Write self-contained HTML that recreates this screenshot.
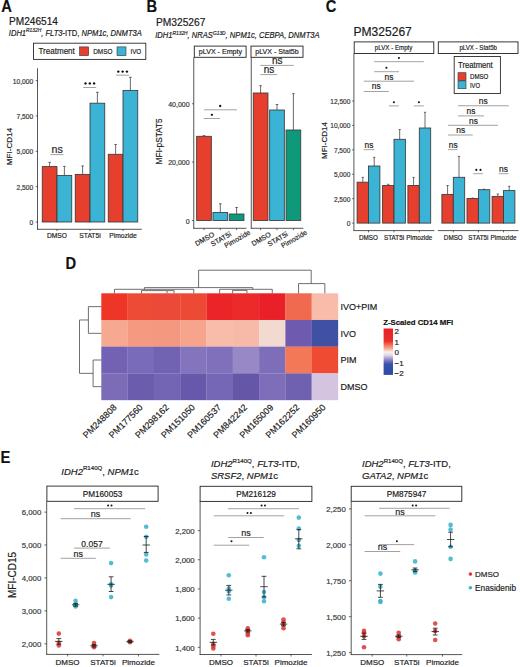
<!DOCTYPE html>
<html><head><meta charset="utf-8"><style>
html,body{margin:0;padding:0;background:#fff;}
svg{display:block;}
text{font-family:"Liberation Sans",sans-serif;}
</style></head><body>
<svg width="520" height="667" viewBox="0 0 520 667" font-family="Liberation Sans, sans-serif">
<rect width="520" height="667" fill="#fff"/>
<text x="0.00" y="0.00" font-size="16" text-anchor="start" fill="#111" stroke="#111" stroke-width="0.18" font-weight="bold" transform="translate(1.2,11.8) scale(0.92,1)">A</text>
<text x="9.00" y="25.00" font-size="10" text-anchor="start" fill="#1a1a1a" stroke="#1a1a1a" stroke-width="0.18" textLength="49.00" lengthAdjust="spacingAndGlyphs" >PM246514</text>
<text stroke="#1a1a1a" stroke-width="0.18" x="8.8" y="35.8" font-size="8.3" fill="#1a1a1a" font-style="italic" textLength="133" lengthAdjust="spacingAndGlyphs">IDH1<tspan font-size="5.3" dy="-3.7">R132H</tspan><tspan dy="3.7">, FLT3</tspan><tspan font-style="normal">-ITD, </tspan>NPM1c, DNMT3A</text>
<rect x="33.50" y="43.20" width="112.30" height="16.20" fill="#fff" stroke="#2a2a2a" stroke-width="0.9"/>
<text x="38.50" y="54.10" font-size="9" text-anchor="start" fill="#222" stroke="#222" stroke-width="0.18" textLength="36.30" lengthAdjust="spacingAndGlyphs" >Treatment</text>
<rect x="79.60" y="46.90" width="9.00" height="8.70" fill="#E63F2D" stroke="#333" stroke-width="0.6"/>
<text x="93.20" y="53.80" font-size="7" text-anchor="start" fill="#222" stroke="#222" stroke-width="0.18" textLength="19.20" lengthAdjust="spacingAndGlyphs" >DMSO</text>
<rect x="117.00" y="46.90" width="9.00" height="8.70" fill="#3AB3D5" stroke="#333" stroke-width="0.6"/>
<text x="130.40" y="53.80" font-size="7" text-anchor="start" fill="#222" stroke="#222" stroke-width="0.18" textLength="10.80" lengthAdjust="spacingAndGlyphs" >IVO</text>
<line x1="37.50" y1="68.30" x2="37.50" y2="229.60" stroke="#2b2b2b" stroke-width="0.8" />
<line x1="37.10" y1="229.30" x2="141.80" y2="229.30" stroke="#2b2b2b" stroke-width="0.8" />
<line x1="35.70" y1="80.60" x2="37.50" y2="80.60" stroke="#2b2b2b" stroke-width="0.7" />
<text x="33.30" y="83.51" font-size="6.7" text-anchor="end" fill="#383838" stroke="#383838" stroke-width="0.18" >10,000</text>
<line x1="35.70" y1="115.95" x2="37.50" y2="115.95" stroke="#2b2b2b" stroke-width="0.7" />
<text x="33.30" y="118.86" font-size="6.7" text-anchor="end" fill="#383838" stroke="#383838" stroke-width="0.18" >7,500</text>
<line x1="35.70" y1="151.30" x2="37.50" y2="151.30" stroke="#2b2b2b" stroke-width="0.7" />
<text x="33.30" y="154.21" font-size="6.7" text-anchor="end" fill="#383838" stroke="#383838" stroke-width="0.18" >5,000</text>
<line x1="35.70" y1="186.65" x2="37.50" y2="186.65" stroke="#2b2b2b" stroke-width="0.7" />
<text x="33.30" y="189.56" font-size="6.7" text-anchor="end" fill="#383838" stroke="#383838" stroke-width="0.18" >2,500</text>
<line x1="35.70" y1="222.00" x2="37.50" y2="222.00" stroke="#2b2b2b" stroke-width="0.7" />
<text x="33.30" y="224.91" font-size="6.7" text-anchor="end" fill="#383838" stroke="#383838" stroke-width="0.18" >0</text>
<line x1="57.00" y1="229.30" x2="57.00" y2="231.10" stroke="#2b2b2b" stroke-width="0.7" />
<line x1="90.00" y1="229.30" x2="90.00" y2="231.10" stroke="#2b2b2b" stroke-width="0.7" />
<line x1="123.00" y1="229.30" x2="123.00" y2="231.10" stroke="#2b2b2b" stroke-width="0.7" />
<rect x="42.25" y="166.60" width="14.75" height="55.40" fill="#E63F2D" stroke="#3a3a3a" stroke-width="0.85"/>
<line x1="49.62" y1="166.60" x2="49.62" y2="162.30" stroke="#444" stroke-width="0.8" />
<line x1="48.33" y1="162.30" x2="50.92" y2="162.30" stroke="#444" stroke-width="0.8" />
<rect x="57.00" y="175.40" width="14.75" height="46.60" fill="#3AB3D5" stroke="#3a3a3a" stroke-width="0.85"/>
<line x1="64.38" y1="175.40" x2="64.38" y2="166.40" stroke="#444" stroke-width="0.8" />
<line x1="63.08" y1="166.40" x2="65.67" y2="166.40" stroke="#444" stroke-width="0.8" />
<rect x="75.25" y="174.40" width="14.75" height="47.60" fill="#E63F2D" stroke="#3a3a3a" stroke-width="0.85"/>
<line x1="82.62" y1="174.40" x2="82.62" y2="165.90" stroke="#444" stroke-width="0.8" />
<line x1="81.33" y1="165.90" x2="83.92" y2="165.90" stroke="#444" stroke-width="0.8" />
<rect x="90.00" y="103.20" width="14.75" height="118.80" fill="#3AB3D5" stroke="#3a3a3a" stroke-width="0.85"/>
<line x1="97.38" y1="103.20" x2="97.38" y2="92.30" stroke="#444" stroke-width="0.8" />
<line x1="96.08" y1="92.30" x2="98.67" y2="92.30" stroke="#444" stroke-width="0.8" />
<rect x="108.25" y="154.30" width="14.75" height="67.70" fill="#E63F2D" stroke="#3a3a3a" stroke-width="0.85"/>
<line x1="115.62" y1="154.30" x2="115.62" y2="144.50" stroke="#444" stroke-width="0.8" />
<line x1="114.33" y1="144.50" x2="116.92" y2="144.50" stroke="#444" stroke-width="0.8" />
<rect x="123.00" y="90.40" width="14.75" height="131.60" fill="#3AB3D5" stroke="#3a3a3a" stroke-width="0.85"/>
<line x1="130.38" y1="90.40" x2="130.38" y2="77.30" stroke="#444" stroke-width="0.8" />
<line x1="129.07" y1="77.30" x2="131.68" y2="77.30" stroke="#444" stroke-width="0.8" />
<text x="57.00" y="238.30" font-size="6.7" text-anchor="middle" fill="#222" stroke="#222" stroke-width="0.18" >DMSO</text>
<text x="90.00" y="238.30" font-size="6.7" text-anchor="middle" fill="#222" stroke="#222" stroke-width="0.18" >STAT5i</text>
<text x="123.00" y="238.30" font-size="6.7" text-anchor="middle" fill="#222" stroke="#222" stroke-width="0.18" >Pimozide</text>
<text x="0.00" y="0.00" font-size="8.1" text-anchor="middle" fill="#1a1a1a" stroke="#1a1a1a" stroke-width="0.18" transform="translate(11.9,146.5) rotate(-90)">MFI-CD14</text>
<line x1="50.40" y1="154.60" x2="63.50" y2="154.60" stroke="#8a8a8a" stroke-width="0.8" />
<text x="57.20" y="152.60" font-size="10.6" text-anchor="middle" fill="#222" stroke="#222" stroke-width="0.18" >ns</text>
<line x1="83.20" y1="87.50" x2="96.20" y2="87.50" stroke="#8a8a8a" stroke-width="0.8" />
<circle cx="85.50" cy="83.40" r="1.2" fill="#111"/>
<circle cx="89.80" cy="83.40" r="1.2" fill="#111"/>
<circle cx="94.10" cy="83.40" r="1.2" fill="#111"/>
<line x1="116.00" y1="75.20" x2="129.00" y2="75.20" stroke="#8a8a8a" stroke-width="0.8" />
<circle cx="118.30" cy="71.60" r="1.2" fill="#111"/>
<circle cx="122.60" cy="71.60" r="1.2" fill="#111"/>
<circle cx="126.90" cy="71.60" r="1.2" fill="#111"/>
<text x="0.00" y="0.00" font-size="16" text-anchor="start" fill="#111" stroke="#111" stroke-width="0.18" font-weight="bold" transform="translate(146.6,11.6) scale(0.92,1)">B</text>
<text x="156.00" y="25.60" font-size="10" text-anchor="start" fill="#1a1a1a" stroke="#1a1a1a" stroke-width="0.18" textLength="49.40" lengthAdjust="spacingAndGlyphs" >PM325267</text>
<text stroke="#1a1a1a" stroke-width="0.18" x="155.2" y="38.4" font-size="8.3" fill="#1a1a1a" font-style="italic" textLength="164.4" lengthAdjust="spacingAndGlyphs">IDH1<tspan font-size="5.3" dy="-3.7">R132H</tspan><tspan dy="3.7">, NRAS</tspan><tspan font-size="5.3" dy="-3.7">G13D</tspan><tspan dy="3.7">, NPM1c, CEBPA, DNMT3A</tspan></text>
<rect x="194.30" y="46.10" width="51.80" height="11.20" fill="#fff" stroke="#222" stroke-width="0.9"/>
<text x="220.40" y="54.40" font-size="7.6" text-anchor="middle" fill="#1a1a1a" stroke="#1a1a1a" stroke-width="0.18" textLength="43.20" lengthAdjust="spacingAndGlyphs" >pLVX - Empty</text>
<rect x="251.00" y="46.10" width="52.00" height="11.20" fill="#fff" stroke="#222" stroke-width="0.9"/>
<text x="277.00" y="54.40" font-size="7.6" text-anchor="middle" fill="#1a1a1a" stroke="#1a1a1a" stroke-width="0.18" textLength="43.40" lengthAdjust="spacingAndGlyphs" >pLVX - Stat5b</text>
<line x1="193.75" y1="57.30" x2="193.75" y2="228.60" stroke="#2b2b2b" stroke-width="0.8" />
<line x1="251.25" y1="57.30" x2="251.25" y2="228.60" stroke="#2b2b2b" stroke-width="0.8" />
<line x1="193.35" y1="228.30" x2="246.40" y2="228.30" stroke="#2b2b2b" stroke-width="0.8" />
<line x1="250.85" y1="228.30" x2="303.30" y2="228.30" stroke="#2b2b2b" stroke-width="0.8" />
<line x1="191.95" y1="103.75" x2="193.75" y2="103.75" stroke="#2b2b2b" stroke-width="0.7" />
<text x="189.65" y="106.77" font-size="7" text-anchor="end" fill="#383838" stroke="#383838" stroke-width="0.18" >40,000</text>
<line x1="191.95" y1="162.12" x2="193.75" y2="162.12" stroke="#2b2b2b" stroke-width="0.7" />
<text x="189.65" y="165.15" font-size="7" text-anchor="end" fill="#383838" stroke="#383838" stroke-width="0.18" >20,000</text>
<line x1="191.95" y1="220.50" x2="193.75" y2="220.50" stroke="#2b2b2b" stroke-width="0.7" />
<text x="189.65" y="223.52" font-size="7" text-anchor="end" fill="#383838" stroke="#383838" stroke-width="0.18" >0</text>
<line x1="204.00" y1="228.30" x2="204.00" y2="230.10" stroke="#2b2b2b" stroke-width="0.7" />
<line x1="220.30" y1="228.30" x2="220.30" y2="230.10" stroke="#2b2b2b" stroke-width="0.7" />
<line x1="236.60" y1="228.30" x2="236.60" y2="230.10" stroke="#2b2b2b" stroke-width="0.7" />
<line x1="260.60" y1="228.30" x2="260.60" y2="230.10" stroke="#2b2b2b" stroke-width="0.7" />
<line x1="277.00" y1="228.30" x2="277.00" y2="230.10" stroke="#2b2b2b" stroke-width="0.7" />
<line x1="293.40" y1="228.30" x2="293.40" y2="230.10" stroke="#2b2b2b" stroke-width="0.7" />
<rect x="196.65" y="136.30" width="14.70" height="84.20" fill="#E63F2D" stroke="#3a3a3a" stroke-width="0.85"/>
<line x1="204.00" y1="136.30" x2="204.00" y2="135.60" stroke="#444" stroke-width="0.8" />
<line x1="202.70" y1="135.60" x2="205.30" y2="135.60" stroke="#444" stroke-width="0.8" />
<rect x="212.95" y="212.50" width="14.70" height="8.00" fill="#3AB3D5" stroke="#3a3a3a" stroke-width="0.85"/>
<line x1="220.30" y1="212.50" x2="220.30" y2="203.80" stroke="#444" stroke-width="0.8" />
<line x1="219.00" y1="203.80" x2="221.60" y2="203.80" stroke="#444" stroke-width="0.8" />
<rect x="229.25" y="214.00" width="14.70" height="6.50" fill="#0E9A7A" stroke="#3a3a3a" stroke-width="0.85"/>
<line x1="236.60" y1="214.00" x2="236.60" y2="207.50" stroke="#444" stroke-width="0.8" />
<line x1="235.30" y1="207.50" x2="237.90" y2="207.50" stroke="#444" stroke-width="0.8" />
<rect x="253.25" y="93.00" width="14.70" height="127.50" fill="#E63F2D" stroke="#3a3a3a" stroke-width="0.85"/>
<line x1="260.60" y1="93.00" x2="260.60" y2="85.70" stroke="#444" stroke-width="0.8" />
<line x1="259.30" y1="85.70" x2="261.90" y2="85.70" stroke="#444" stroke-width="0.8" />
<rect x="269.65" y="110.00" width="14.70" height="110.50" fill="#3AB3D5" stroke="#3a3a3a" stroke-width="0.85"/>
<line x1="277.00" y1="110.00" x2="277.00" y2="104.50" stroke="#444" stroke-width="0.8" />
<line x1="275.70" y1="104.50" x2="278.30" y2="104.50" stroke="#444" stroke-width="0.8" />
<rect x="286.05" y="130.00" width="14.70" height="90.50" fill="#0E9A7A" stroke="#3a3a3a" stroke-width="0.85"/>
<line x1="293.40" y1="130.00" x2="293.40" y2="93.70" stroke="#444" stroke-width="0.8" />
<line x1="292.10" y1="93.70" x2="294.70" y2="93.70" stroke="#444" stroke-width="0.8" />
<text x="0.00" y="0.00" font-size="8.3" text-anchor="middle" fill="#1a1a1a" stroke="#1a1a1a" stroke-width="0.18" transform="translate(162.0,141.4) rotate(-90)">MFI-pSTAT5</text>
<text x="0.00" y="0.00" font-size="7" text-anchor="middle" fill="#222" stroke="#222" stroke-width="0.18" transform="translate(205.80,241.10) rotate(-30)">DMSO</text>
<text x="0.00" y="0.00" font-size="7" text-anchor="middle" fill="#222" stroke="#222" stroke-width="0.18" transform="translate(222.10,241.10) rotate(-30)">STAT5i</text>
<text x="0.00" y="0.00" font-size="7" text-anchor="middle" fill="#222" stroke="#222" stroke-width="0.18" transform="translate(238.40,241.10) rotate(-30)">Pimozide</text>
<text x="0.00" y="0.00" font-size="7" text-anchor="middle" fill="#222" stroke="#222" stroke-width="0.18" transform="translate(262.40,241.10) rotate(-30)">DMSO</text>
<text x="0.00" y="0.00" font-size="7" text-anchor="middle" fill="#222" stroke="#222" stroke-width="0.18" transform="translate(278.80,241.10) rotate(-30)">STAT5i</text>
<text x="0.00" y="0.00" font-size="7" text-anchor="middle" fill="#222" stroke="#222" stroke-width="0.18" transform="translate(295.20,241.10) rotate(-30)">Pimozide</text>
<line x1="203.75" y1="118.50" x2="220.00" y2="118.50" stroke="#8a8a8a" stroke-width="0.8" />
<circle cx="211.90" cy="114.80" r="1.15" fill="#111"/>
<line x1="203.75" y1="109.80" x2="237.00" y2="109.80" stroke="#8a8a8a" stroke-width="0.8" />
<circle cx="220.20" cy="106.00" r="1.15" fill="#111"/>
<line x1="260.40" y1="65.40" x2="293.80" y2="65.40" stroke="#8a8a8a" stroke-width="0.8" />
<text x="277.20" y="64.20" font-size="10" text-anchor="middle" fill="#222" stroke="#222" stroke-width="0.18" >ns</text>
<line x1="260.40" y1="74.60" x2="277.20" y2="74.60" stroke="#8a8a8a" stroke-width="0.8" />
<text x="269.00" y="73.20" font-size="10" text-anchor="middle" fill="#222" stroke="#222" stroke-width="0.18" >ns</text>
<text x="0.00" y="0.00" font-size="16" text-anchor="start" fill="#111" stroke="#111" stroke-width="0.18" font-weight="bold" transform="translate(325.8,12.2) scale(0.92,1)">C</text>
<text x="353.50" y="36.40" font-size="12" text-anchor="start" fill="#1a1a1a" stroke="#1a1a1a" stroke-width="0.18" textLength="58.30" lengthAdjust="spacingAndGlyphs" >PM325267</text>
<rect x="354.20" y="41.90" width="79.60" height="11.60" fill="#fff" stroke="#222" stroke-width="0.9"/>
<text x="393.60" y="50.30" font-size="7.2" text-anchor="middle" fill="#1a1a1a" stroke="#1a1a1a" stroke-width="0.18" textLength="37.50" lengthAdjust="spacingAndGlyphs" >pLVX - Empty</text>
<rect x="438.30" y="41.90" width="79.70" height="11.60" fill="#fff" stroke="#222" stroke-width="0.9"/>
<text x="478.20" y="50.30" font-size="7.2" text-anchor="middle" fill="#1a1a1a" stroke="#1a1a1a" stroke-width="0.18" textLength="37.60" lengthAdjust="spacingAndGlyphs" >pLVX - Stat5b</text>
<line x1="353.90" y1="53.50" x2="353.90" y2="230.90" stroke="#2b2b2b" stroke-width="0.8" />
<line x1="353.50" y1="230.60" x2="434.50" y2="230.60" stroke="#2b2b2b" stroke-width="0.8" />
<line x1="437.90" y1="230.60" x2="518.60" y2="230.60" stroke="#2b2b2b" stroke-width="0.8" />
<line x1="352.10" y1="101.00" x2="353.90" y2="101.00" stroke="#2b2b2b" stroke-width="0.7" />
<text x="350.40" y="103.88" font-size="6.6" text-anchor="end" fill="#383838" stroke="#383838" stroke-width="0.18" >12,500</text>
<line x1="352.10" y1="125.42" x2="353.90" y2="125.42" stroke="#2b2b2b" stroke-width="0.7" />
<text x="350.40" y="128.30" font-size="6.6" text-anchor="end" fill="#383838" stroke="#383838" stroke-width="0.18" >10,000</text>
<line x1="352.10" y1="149.84" x2="353.90" y2="149.84" stroke="#2b2b2b" stroke-width="0.7" />
<text x="350.40" y="152.72" font-size="6.6" text-anchor="end" fill="#383838" stroke="#383838" stroke-width="0.18" >7,500</text>
<line x1="352.10" y1="174.26" x2="353.90" y2="174.26" stroke="#2b2b2b" stroke-width="0.7" />
<text x="350.40" y="177.14" font-size="6.6" text-anchor="end" fill="#383838" stroke="#383838" stroke-width="0.18" >5,000</text>
<line x1="352.10" y1="198.68" x2="353.90" y2="198.68" stroke="#2b2b2b" stroke-width="0.7" />
<text x="350.40" y="201.56" font-size="6.6" text-anchor="end" fill="#383838" stroke="#383838" stroke-width="0.18" >2,500</text>
<line x1="352.10" y1="223.10" x2="353.90" y2="223.10" stroke="#2b2b2b" stroke-width="0.7" />
<text x="350.40" y="225.98" font-size="6.6" text-anchor="end" fill="#383838" stroke="#383838" stroke-width="0.18" >0</text>
<line x1="368.50" y1="230.60" x2="368.50" y2="232.40" stroke="#2b2b2b" stroke-width="0.7" />
<line x1="394.00" y1="230.60" x2="394.00" y2="232.40" stroke="#2b2b2b" stroke-width="0.7" />
<line x1="419.30" y1="230.60" x2="419.30" y2="232.40" stroke="#2b2b2b" stroke-width="0.7" />
<line x1="453.30" y1="230.60" x2="453.30" y2="232.40" stroke="#2b2b2b" stroke-width="0.7" />
<line x1="478.40" y1="230.60" x2="478.40" y2="232.40" stroke="#2b2b2b" stroke-width="0.7" />
<line x1="503.50" y1="230.60" x2="503.50" y2="232.40" stroke="#2b2b2b" stroke-width="0.7" />
<rect x="357.10" y="182.20" width="11.40" height="40.90" fill="#E63F2D" stroke="#3a3a3a" stroke-width="0.85"/>
<line x1="362.80" y1="182.20" x2="362.80" y2="177.40" stroke="#444" stroke-width="0.8" />
<line x1="361.70" y1="177.40" x2="363.90" y2="177.40" stroke="#444" stroke-width="0.8" />
<rect x="368.50" y="166.00" width="11.40" height="57.10" fill="#3AB3D5" stroke="#3a3a3a" stroke-width="0.85"/>
<line x1="374.20" y1="166.00" x2="374.20" y2="157.30" stroke="#444" stroke-width="0.8" />
<line x1="373.10" y1="157.30" x2="375.30" y2="157.30" stroke="#444" stroke-width="0.8" />
<rect x="382.60" y="185.50" width="11.40" height="37.60" fill="#E63F2D" stroke="#3a3a3a" stroke-width="0.85"/>
<line x1="388.30" y1="185.50" x2="388.30" y2="184.30" stroke="#444" stroke-width="0.8" />
<line x1="387.20" y1="184.30" x2="389.40" y2="184.30" stroke="#444" stroke-width="0.8" />
<rect x="394.00" y="139.30" width="11.40" height="83.80" fill="#3AB3D5" stroke="#3a3a3a" stroke-width="0.85"/>
<line x1="399.70" y1="139.30" x2="399.70" y2="129.60" stroke="#444" stroke-width="0.8" />
<line x1="398.60" y1="129.60" x2="400.80" y2="129.60" stroke="#444" stroke-width="0.8" />
<rect x="407.90" y="185.50" width="11.40" height="37.60" fill="#E63F2D" stroke="#3a3a3a" stroke-width="0.85"/>
<line x1="413.60" y1="185.50" x2="413.60" y2="177.40" stroke="#444" stroke-width="0.8" />
<line x1="412.50" y1="177.40" x2="414.70" y2="177.40" stroke="#444" stroke-width="0.8" />
<rect x="419.30" y="128.00" width="11.40" height="95.10" fill="#3AB3D5" stroke="#3a3a3a" stroke-width="0.85"/>
<line x1="425.00" y1="128.00" x2="425.00" y2="112.30" stroke="#444" stroke-width="0.8" />
<line x1="423.90" y1="112.30" x2="426.10" y2="112.30" stroke="#444" stroke-width="0.8" />
<rect x="441.90" y="194.40" width="11.40" height="28.70" fill="#E63F2D" stroke="#3a3a3a" stroke-width="0.85"/>
<line x1="447.60" y1="194.40" x2="447.60" y2="185.50" stroke="#444" stroke-width="0.8" />
<line x1="446.50" y1="185.50" x2="448.70" y2="185.50" stroke="#444" stroke-width="0.8" />
<rect x="453.30" y="177.30" width="11.40" height="45.80" fill="#3AB3D5" stroke="#3a3a3a" stroke-width="0.85"/>
<line x1="459.00" y1="177.30" x2="459.00" y2="156.40" stroke="#444" stroke-width="0.8" />
<line x1="457.90" y1="156.40" x2="460.10" y2="156.40" stroke="#444" stroke-width="0.8" />
<rect x="467.00" y="198.50" width="11.40" height="24.60" fill="#E63F2D" stroke="#3a3a3a" stroke-width="0.85"/>
<line x1="472.70" y1="198.50" x2="472.70" y2="198.00" stroke="#444" stroke-width="0.8" />
<line x1="471.60" y1="198.00" x2="473.80" y2="198.00" stroke="#444" stroke-width="0.8" />
<rect x="478.40" y="189.70" width="11.40" height="33.40" fill="#3AB3D5" stroke="#3a3a3a" stroke-width="0.85"/>
<line x1="484.10" y1="189.70" x2="484.10" y2="189.20" stroke="#444" stroke-width="0.8" />
<line x1="483.00" y1="189.20" x2="485.20" y2="189.20" stroke="#444" stroke-width="0.8" />
<rect x="492.10" y="196.40" width="11.40" height="26.70" fill="#E63F2D" stroke="#3a3a3a" stroke-width="0.85"/>
<line x1="497.80" y1="196.40" x2="497.80" y2="194.00" stroke="#444" stroke-width="0.8" />
<line x1="496.70" y1="194.00" x2="498.90" y2="194.00" stroke="#444" stroke-width="0.8" />
<rect x="503.50" y="190.60" width="11.40" height="32.50" fill="#3AB3D5" stroke="#3a3a3a" stroke-width="0.85"/>
<line x1="509.20" y1="190.60" x2="509.20" y2="186.30" stroke="#444" stroke-width="0.8" />
<line x1="508.10" y1="186.30" x2="510.30" y2="186.30" stroke="#444" stroke-width="0.8" />
<text x="368.50" y="240.00" font-size="6.3" text-anchor="middle" fill="#222" stroke="#222" stroke-width="0.18" >DMSO</text>
<text x="394.00" y="240.00" font-size="6.3" text-anchor="middle" fill="#222" stroke="#222" stroke-width="0.18" >STAT5i</text>
<text x="419.30" y="240.00" font-size="6.3" text-anchor="middle" fill="#222" stroke="#222" stroke-width="0.18" >Pimozide</text>
<text x="453.30" y="240.00" font-size="6.3" text-anchor="middle" fill="#222" stroke="#222" stroke-width="0.18" >DMSO</text>
<text x="478.40" y="240.00" font-size="6.3" text-anchor="middle" fill="#222" stroke="#222" stroke-width="0.18" >STAT5i</text>
<text x="503.50" y="240.00" font-size="6.3" text-anchor="middle" fill="#222" stroke="#222" stroke-width="0.18" >Pimozide</text>
<text x="0.00" y="0.00" font-size="8.0" text-anchor="middle" fill="#1a1a1a" stroke="#1a1a1a" stroke-width="0.18" transform="translate(326.9,140.5) rotate(-90)">MFI-CD14</text>
<rect x="454.20" y="56.50" width="46.20" height="37.00" fill="#fff" stroke="#2a2a2a" stroke-width="0.9"/>
<text x="458.00" y="68.10" font-size="8.6" text-anchor="start" fill="#222" stroke="#222" stroke-width="0.18" textLength="34.70" lengthAdjust="spacingAndGlyphs" >Treatment</text>
<rect x="458.00" y="72.70" width="8.00" height="7.80" fill="#E63F2D" stroke="#333" stroke-width="0.6"/>
<rect x="458.00" y="80.90" width="8.00" height="7.80" fill="#3AB3D5" stroke="#333" stroke-width="0.6"/>
<text x="470.00" y="78.80" font-size="6.4" text-anchor="start" fill="#222" stroke="#222" stroke-width="0.18" textLength="18.30" lengthAdjust="spacingAndGlyphs" >DMSO</text>
<text x="470.00" y="87.60" font-size="6.4" text-anchor="start" fill="#222" stroke="#222" stroke-width="0.18" textLength="10.00" lengthAdjust="spacingAndGlyphs" >IVO</text>
<line x1="374.20" y1="61.70" x2="423.80" y2="61.70" stroke="#8a8a8a" stroke-width="0.8" />
<circle cx="398.90" cy="58.00" r="1.05" fill="#111"/>
<line x1="374.20" y1="71.70" x2="399.00" y2="71.70" stroke="#8a8a8a" stroke-width="0.8" />
<circle cx="386.40" cy="67.80" r="1.05" fill="#111"/>
<line x1="363.80" y1="81.20" x2="414.20" y2="81.20" stroke="#8a8a8a" stroke-width="0.8" />
<text x="389.00" y="79.50" font-size="8.4" text-anchor="middle" fill="#222" stroke="#222" stroke-width="0.18" >ns</text>
<line x1="363.80" y1="91.50" x2="388.80" y2="91.50" stroke="#8a8a8a" stroke-width="0.8" />
<text x="376.20" y="89.20" font-size="8.4" text-anchor="middle" fill="#222" stroke="#222" stroke-width="0.18" >ns</text>
<line x1="388.80" y1="105.90" x2="398.80" y2="105.90" stroke="#8a8a8a" stroke-width="0.8" />
<circle cx="393.90" cy="102.20" r="1.05" fill="#111"/>
<line x1="413.80" y1="105.90" x2="423.80" y2="105.90" stroke="#8a8a8a" stroke-width="0.8" />
<circle cx="418.90" cy="102.20" r="1.05" fill="#111"/>
<line x1="363.60" y1="149.70" x2="374.60" y2="149.70" stroke="#8a8a8a" stroke-width="0.8" />
<text x="369.00" y="148.10" font-size="8.4" text-anchor="middle" fill="#222" stroke="#222" stroke-width="0.18" >ns</text>
<line x1="458.00" y1="105.75" x2="508.80" y2="105.75" stroke="#8a8a8a" stroke-width="0.8" />
<text x="483.20" y="104.00" font-size="8.4" text-anchor="middle" fill="#222" stroke="#222" stroke-width="0.18" >ns</text>
<line x1="458.00" y1="115.90" x2="484.00" y2="115.90" stroke="#8a8a8a" stroke-width="0.8" />
<text x="470.90" y="114.10" font-size="8.4" text-anchor="middle" fill="#222" stroke="#222" stroke-width="0.18" >ns</text>
<line x1="448.00" y1="125.30" x2="498.00" y2="125.30" stroke="#8a8a8a" stroke-width="0.8" />
<text x="473.50" y="123.60" font-size="8.4" text-anchor="middle" fill="#222" stroke="#222" stroke-width="0.18" >ns</text>
<line x1="448.00" y1="135.00" x2="472.80" y2="135.00" stroke="#8a8a8a" stroke-width="0.8" />
<text x="460.70" y="133.30" font-size="8.4" text-anchor="middle" fill="#222" stroke="#222" stroke-width="0.18" >ns</text>
<line x1="448.00" y1="149.60" x2="457.50" y2="149.60" stroke="#8a8a8a" stroke-width="0.8" />
<text x="453.20" y="147.90" font-size="8.4" text-anchor="middle" fill="#222" stroke="#222" stroke-width="0.18" >ns</text>
<line x1="473.20" y1="173.70" x2="482.90" y2="173.70" stroke="#8a8a8a" stroke-width="0.8" />
<circle cx="476.30" cy="169.90" r="1.05" fill="#111"/>
<circle cx="480.50" cy="169.90" r="1.05" fill="#111"/>
<line x1="498.60" y1="173.70" x2="508.30" y2="173.70" stroke="#8a8a8a" stroke-width="0.8" />
<text x="503.50" y="172.10" font-size="8.4" text-anchor="middle" fill="#222" stroke="#222" stroke-width="0.18" >ns</text>
<text x="0.00" y="0.00" font-size="16" text-anchor="start" fill="#111" stroke="#111" stroke-width="0.18" font-weight="bold" transform="translate(65.4,268.9) scale(0.92,1)">D</text>
<rect x="101.30" y="293.30" width="26.45" height="26.83" fill="#EE3526"/>
<rect x="127.60" y="293.30" width="26.45" height="26.83" fill="#EE4B36"/>
<rect x="153.90" y="293.30" width="26.45" height="26.83" fill="#EC4A38"/>
<rect x="180.20" y="293.30" width="26.45" height="26.83" fill="#EC4A34"/>
<rect x="206.50" y="293.30" width="26.45" height="26.83" fill="#EB2427"/>
<rect x="232.80" y="293.30" width="26.45" height="26.83" fill="#EC2A2A"/>
<rect x="259.10" y="293.30" width="26.45" height="26.83" fill="#EA2028"/>
<rect x="285.40" y="293.30" width="26.45" height="26.83" fill="#F06A50"/>
<rect x="311.70" y="293.30" width="26.45" height="26.83" fill="#F9BBAA"/>
<rect x="101.30" y="319.98" width="26.45" height="26.83" fill="#F6A890"/>
<rect x="127.60" y="319.98" width="26.45" height="26.83" fill="#F59A80"/>
<rect x="153.90" y="319.98" width="26.45" height="26.83" fill="#F59880"/>
<rect x="180.20" y="319.98" width="26.45" height="26.83" fill="#F6A48C"/>
<rect x="206.50" y="319.98" width="26.45" height="26.83" fill="#F8BCAA"/>
<rect x="232.80" y="319.98" width="26.45" height="26.83" fill="#F8BAA8"/>
<rect x="259.10" y="319.98" width="26.45" height="26.83" fill="#F3DAD0"/>
<rect x="285.40" y="319.98" width="26.45" height="26.83" fill="#6E5AAE"/>
<rect x="311.70" y="319.98" width="26.45" height="26.83" fill="#4050A4"/>
<rect x="101.30" y="346.66" width="26.45" height="26.83" fill="#7362B4"/>
<rect x="127.60" y="346.66" width="26.45" height="26.83" fill="#7A6ABA"/>
<rect x="153.90" y="346.66" width="26.45" height="26.83" fill="#7262B2"/>
<rect x="180.20" y="346.66" width="26.45" height="26.83" fill="#8474BE"/>
<rect x="206.50" y="346.66" width="26.45" height="26.83" fill="#8070BC"/>
<rect x="232.80" y="346.66" width="26.45" height="26.83" fill="#9888C6"/>
<rect x="259.10" y="346.66" width="26.45" height="26.83" fill="#7E6EBA"/>
<rect x="285.40" y="346.66" width="26.45" height="26.83" fill="#F27858"/>
<rect x="311.70" y="346.66" width="26.45" height="26.83" fill="#EF4A32"/>
<rect x="101.30" y="373.34" width="26.45" height="26.83" fill="#7C6CB8"/>
<rect x="127.60" y="373.34" width="26.45" height="26.83" fill="#6C5CAE"/>
<rect x="153.90" y="373.34" width="26.45" height="26.83" fill="#7464B4"/>
<rect x="180.20" y="373.34" width="26.45" height="26.83" fill="#6858AC"/>
<rect x="206.50" y="373.34" width="26.45" height="26.83" fill="#7666B6"/>
<rect x="232.80" y="373.34" width="26.45" height="26.83" fill="#6656A8"/>
<rect x="259.10" y="373.34" width="26.45" height="26.83" fill="#7E6EBA"/>
<rect x="285.40" y="373.34" width="26.45" height="26.83" fill="#7060B0"/>
<rect x="311.70" y="373.34" width="26.45" height="26.83" fill="#D4C4E0"/>
<text x="340.50" y="309.84" font-size="9" text-anchor="start" fill="#1a1a1a" stroke="#1a1a1a" stroke-width="0.18" >IVO+PIM</text>
<text x="340.50" y="336.52" font-size="9" text-anchor="start" fill="#1a1a1a" stroke="#1a1a1a" stroke-width="0.18" >IVO</text>
<text x="340.50" y="363.20" font-size="9" text-anchor="start" fill="#1a1a1a" stroke="#1a1a1a" stroke-width="0.18" >PIM</text>
<text x="340.50" y="389.88" font-size="9" text-anchor="start" fill="#1a1a1a" stroke="#1a1a1a" stroke-width="0.18" >DMSO</text>
<text x="0.00" y="0.00" font-size="9" text-anchor="end" fill="#1a1a1a" stroke="#1a1a1a" stroke-width="0.18" transform="translate(117.30,408.00) rotate(-45)">PM248808</text>
<text x="0.00" y="0.00" font-size="9" text-anchor="end" fill="#1a1a1a" stroke="#1a1a1a" stroke-width="0.18" transform="translate(143.41,408.00) rotate(-45)">PM177560</text>
<text x="0.00" y="0.00" font-size="9" text-anchor="end" fill="#1a1a1a" stroke="#1a1a1a" stroke-width="0.18" transform="translate(169.52,408.00) rotate(-45)">PM298162</text>
<text x="0.00" y="0.00" font-size="9" text-anchor="end" fill="#1a1a1a" stroke="#1a1a1a" stroke-width="0.18" transform="translate(195.63,408.00) rotate(-45)">PM151050</text>
<text x="0.00" y="0.00" font-size="9" text-anchor="end" fill="#1a1a1a" stroke="#1a1a1a" stroke-width="0.18" transform="translate(221.74,408.00) rotate(-45)">PM160537</text>
<text x="0.00" y="0.00" font-size="9" text-anchor="end" fill="#1a1a1a" stroke="#1a1a1a" stroke-width="0.18" transform="translate(247.85,408.00) rotate(-45)">PM842242</text>
<text x="0.00" y="0.00" font-size="9" text-anchor="end" fill="#1a1a1a" stroke="#1a1a1a" stroke-width="0.18" transform="translate(273.96,408.00) rotate(-45)">PM165009</text>
<text x="0.00" y="0.00" font-size="9" text-anchor="end" fill="#1a1a1a" stroke="#1a1a1a" stroke-width="0.18" transform="translate(300.07,408.00) rotate(-45)">PM162252</text>
<text x="0.00" y="0.00" font-size="9" text-anchor="end" fill="#1a1a1a" stroke="#1a1a1a" stroke-width="0.18" transform="translate(326.18,408.00) rotate(-45)">PM160950</text>
<path d="M198.6,287.6 V270.2 H311.2 V283.6" fill="none" stroke="#4a4a4a" stroke-width="0.8"/>
<path d="M298.55,293.30 V283.6 H324.85 V293.30" fill="none" stroke="#4a4a4a" stroke-width="0.8"/>
<path d="M144.4,287.6 H252.8" fill="none" stroke="#4a4a4a" stroke-width="0.8"/>
<path d="M144.4,287.6 V289.3 M252.8,287.6 V289.3" fill="none" stroke="#4a4a4a" stroke-width="0.8"/>
<path d="M114.45,293.30 V289.3 H193.8 V293.30" fill="none" stroke="#4a4a4a" stroke-width="0.8"/>
<path d="M219.65,293.30 V289.3 H272.25 V293.30" fill="none" stroke="#4a4a4a" stroke-width="0.8"/>
<path d="M141.5,293.30 V290.6 H174 V293.30 M153,290.6 V290.2 M167.05,293.3 V291" fill="none" stroke="#4a4a4a" stroke-width="0.8"/>
<path d="M232.6,293.30 V290.4 H247 V293.30" fill="none" stroke="#4a4a4a" stroke-width="0.8"/>
<path d="M101.30,306.64 H88.4 V333.32 H101.30" fill="none" stroke="#4a4a4a" stroke-width="0.8"/>
<path d="M101.30,360.00 H93.1 V386.68 H101.30" fill="none" stroke="#4a4a4a" stroke-width="0.8"/>
<path d="M88.4,319.98 H79.5 V373.34 H93.1" fill="none" stroke="#4a4a4a" stroke-width="0.8"/>
<text x="383.20" y="324.90" font-size="7.8" text-anchor="start" fill="#111" stroke="#111" stroke-width="0.18" font-weight="bold" textLength="70.00" lengthAdjust="spacingAndGlyphs" >Z-Scaled CD14 MFI</text>
<defs><linearGradient id="zg" x1="0" y1="0" x2="0" y2="1"><stop offset="0" stop-color="#E61F27"/><stop offset="0.27" stop-color="#EA2E2C"/><stop offset="0.34" stop-color="#F0674D"/><stop offset="0.43" stop-color="#F6A797"/><stop offset="0.51" stop-color="#F8F0F0"/><stop offset="0.58" stop-color="#DCD4EA"/><stop offset="0.66" stop-color="#9A90C8"/><stop offset="0.73" stop-color="#5A62B4"/><stop offset="0.77" stop-color="#3651AA"/><stop offset="1" stop-color="#2C4AA6"/></linearGradient></defs>
<rect x="383.6" y="328.5" width="9.4" height="46.4" fill="url(#zg)"/>
<text x="394.60" y="334.10" font-size="8" text-anchor="start" fill="#222" stroke="#222" stroke-width="0.18" >2</text>
<text x="394.60" y="344.50" font-size="8" text-anchor="start" fill="#222" stroke="#222" stroke-width="0.18" >1</text>
<text x="394.60" y="355.10" font-size="8" text-anchor="start" fill="#222" stroke="#222" stroke-width="0.18" >0</text>
<text x="394.60" y="366.10" font-size="8" text-anchor="start" fill="#222" stroke="#222" stroke-width="0.18" >−1</text>
<text x="394.60" y="375.90" font-size="8" text-anchor="start" fill="#222" stroke="#222" stroke-width="0.18" >−2</text>
<text x="0.00" y="0.00" font-size="16" text-anchor="start" fill="#111" stroke="#111" stroke-width="0.18" font-weight="bold" transform="translate(0.5,463.4) scale(0.92,1)">E</text>
<text stroke="#1a1a1a" stroke-width="0.18" x="61.3" y="474.7" font-size="9.5" fill="#1a1a1a"><tspan font-style="italic">IDH2</tspan><tspan font-size="6.1" dy="-4.3">R140Q</tspan><tspan dy="4.3">, </tspan><tspan font-style="italic">NPM1</tspan>c</text>
<text stroke="#1a1a1a" stroke-width="0.18" x="210.9" y="466.9" font-size="9.5" fill="#1a1a1a"><tspan font-style="italic">IDH2</tspan><tspan font-size="6.1" dy="-4.3">R140Q</tspan><tspan dy="4.3">, </tspan><tspan font-style="italic">FLT3</tspan>-ITD,</text>
<text stroke="#1a1a1a" stroke-width="0.18" x="210.9" y="479.0" font-size="9.5" fill="#1a1a1a"><tspan font-style="italic">SRSF2</tspan>, <tspan font-style="italic">NPM1</tspan>c</text>
<text stroke="#1a1a1a" stroke-width="0.18" x="362.0" y="466.9" font-size="9.5" fill="#1a1a1a"><tspan font-style="italic">IDH2</tspan><tspan font-size="6.1" dy="-4.3">R140Q</tspan><tspan dy="4.3">, </tspan><tspan font-style="italic">FLT3</tspan>-ITD,</text>
<text stroke="#1a1a1a" stroke-width="0.18" x="362.0" y="479.0" font-size="9.5" fill="#1a1a1a"><tspan font-style="italic">GATA2</tspan>, <tspan font-style="italic">NPM1</tspan>c</text>
<rect x="46.90" y="486.10" width="111.20" height="15.20" fill="#fff" stroke="#222" stroke-width="0.9"/>
<text x="102.50" y="496.65" font-size="8.2" text-anchor="middle" fill="#1a1a1a" stroke="#1a1a1a" stroke-width="0.18" >PM160053</text>
<rect x="200.10" y="486.30" width="111.80" height="15.10" fill="#fff" stroke="#222" stroke-width="0.9"/>
<text x="256.00" y="496.80" font-size="8.2" text-anchor="middle" fill="#1a1a1a" stroke="#1a1a1a" stroke-width="0.18" >PM216129</text>
<rect x="351.20" y="486.30" width="110.60" height="15.00" fill="#fff" stroke="#222" stroke-width="0.9"/>
<text x="406.50" y="496.75" font-size="8.2" text-anchor="middle" fill="#1a1a1a" stroke="#1a1a1a" stroke-width="0.18" >PM875947</text>
<line x1="46.70" y1="501.30" x2="46.70" y2="654.80" stroke="#2b2b2b" stroke-width="0.8" />
<line x1="46.30" y1="654.40" x2="159.40" y2="654.40" stroke="#2b2b2b" stroke-width="0.8" />
<line x1="44.40" y1="512.10" x2="46.70" y2="512.10" stroke="#2b2b2b" stroke-width="0.7" />
<text x="41.30" y="515.41" font-size="7.8" text-anchor="end" fill="#383838" stroke="#383838" stroke-width="0.18" >6,000</text>
<line x1="44.40" y1="545.02" x2="46.70" y2="545.02" stroke="#2b2b2b" stroke-width="0.7" />
<text x="41.30" y="548.33" font-size="7.8" text-anchor="end" fill="#383838" stroke="#383838" stroke-width="0.18" >5,000</text>
<line x1="44.40" y1="577.95" x2="46.70" y2="577.95" stroke="#2b2b2b" stroke-width="0.7" />
<text x="41.30" y="581.26" font-size="7.8" text-anchor="end" fill="#383838" stroke="#383838" stroke-width="0.18" >4,000</text>
<line x1="44.40" y1="610.88" x2="46.70" y2="610.88" stroke="#2b2b2b" stroke-width="0.7" />
<text x="41.30" y="614.18" font-size="7.8" text-anchor="end" fill="#383838" stroke="#383838" stroke-width="0.18" >3,000</text>
<line x1="44.40" y1="643.80" x2="46.70" y2="643.80" stroke="#2b2b2b" stroke-width="0.7" />
<text x="41.30" y="647.11" font-size="7.8" text-anchor="end" fill="#383838" stroke="#383838" stroke-width="0.18" >2,000</text>
<line x1="67.60" y1="654.40" x2="67.60" y2="656.40" stroke="#2b2b2b" stroke-width="0.7" />
<line x1="103.00" y1="654.40" x2="103.00" y2="656.40" stroke="#2b2b2b" stroke-width="0.7" />
<line x1="138.40" y1="654.40" x2="138.40" y2="656.40" stroke="#2b2b2b" stroke-width="0.7" />
<text x="67.60" y="664.90" font-size="8" text-anchor="middle" fill="#222" stroke="#222" stroke-width="0.18" >DMSO</text>
<text x="103.00" y="664.90" font-size="8" text-anchor="middle" fill="#222" stroke="#222" stroke-width="0.18" >STAT5i</text>
<text x="138.40" y="664.90" font-size="8" text-anchor="middle" fill="#222" stroke="#222" stroke-width="0.18" >Pimozide</text>
<circle cx="58.80" cy="633.60" r="2.3" fill="#DB3B36" fill-opacity="0.88"/>
<circle cx="58.80" cy="642.80" r="2.3" fill="#DB3B36" fill-opacity="0.88"/>
<circle cx="58.80" cy="645.50" r="2.3" fill="#DB3B36" fill-opacity="0.88"/>
<line x1="58.80" y1="638.60" x2="58.80" y2="644.30" stroke="#1a1a1a" stroke-width="0.8" />
<line x1="56.40" y1="638.60" x2="61.20" y2="638.60" stroke="#1a1a1a" stroke-width="0.8" />
<line x1="56.40" y1="644.30" x2="61.20" y2="644.30" stroke="#1a1a1a" stroke-width="0.8" />
<line x1="55.10" y1="641.40" x2="62.50" y2="641.40" stroke="#1a1a1a" stroke-width="0.8" />
<circle cx="94.00" cy="643.00" r="2.3" fill="#DB3B36" fill-opacity="0.88"/>
<circle cx="94.00" cy="645.60" r="2.3" fill="#DB3B36" fill-opacity="0.88"/>
<circle cx="94.00" cy="647.30" r="2.3" fill="#DB3B36" fill-opacity="0.88"/>
<line x1="94.00" y1="644.60" x2="94.00" y2="647.00" stroke="#1a1a1a" stroke-width="0.8" />
<line x1="91.60" y1="644.60" x2="96.40" y2="644.60" stroke="#1a1a1a" stroke-width="0.8" />
<line x1="91.60" y1="647.00" x2="96.40" y2="647.00" stroke="#1a1a1a" stroke-width="0.8" />
<line x1="90.30" y1="645.80" x2="97.70" y2="645.80" stroke="#1a1a1a" stroke-width="0.8" />
<circle cx="130.00" cy="640.80" r="2.3" fill="#DB3B36" fill-opacity="0.88"/>
<circle cx="130.00" cy="642.20" r="2.3" fill="#DB3B36" fill-opacity="0.88"/>
<line x1="130.00" y1="640.60" x2="130.00" y2="642.60" stroke="#1a1a1a" stroke-width="0.8" />
<line x1="127.60" y1="640.60" x2="132.40" y2="640.60" stroke="#1a1a1a" stroke-width="0.8" />
<line x1="127.60" y1="642.60" x2="132.40" y2="642.60" stroke="#1a1a1a" stroke-width="0.8" />
<line x1="126.30" y1="641.60" x2="133.70" y2="641.60" stroke="#1a1a1a" stroke-width="0.8" />
<circle cx="75.60" cy="600.70" r="2.3" fill="#3BB3CB" fill-opacity="0.88"/>
<circle cx="75.60" cy="604.40" r="2.3" fill="#3BB3CB" fill-opacity="0.88"/>
<circle cx="75.60" cy="605.60" r="2.3" fill="#3BB3CB" fill-opacity="0.88"/>
<circle cx="75.60" cy="606.40" r="2.3" fill="#3BB3CB" fill-opacity="0.88"/>
<line x1="75.60" y1="603.40" x2="75.60" y2="606.20" stroke="#1a1a1a" stroke-width="0.8" />
<line x1="73.20" y1="603.40" x2="78.00" y2="603.40" stroke="#1a1a1a" stroke-width="0.8" />
<line x1="73.20" y1="606.20" x2="78.00" y2="606.20" stroke="#1a1a1a" stroke-width="0.8" />
<line x1="71.90" y1="604.80" x2="79.30" y2="604.80" stroke="#1a1a1a" stroke-width="0.8" />
<circle cx="111.10" cy="563.10" r="2.3" fill="#3BB3CB" fill-opacity="0.88"/>
<circle cx="111.10" cy="584.30" r="2.3" fill="#3BB3CB" fill-opacity="0.88"/>
<circle cx="111.10" cy="585.60" r="2.3" fill="#3BB3CB" fill-opacity="0.88"/>
<circle cx="111.10" cy="597.10" r="2.3" fill="#3BB3CB" fill-opacity="0.88"/>
<line x1="111.10" y1="576.80" x2="111.10" y2="591.50" stroke="#1a1a1a" stroke-width="0.8" />
<line x1="108.70" y1="576.80" x2="113.50" y2="576.80" stroke="#1a1a1a" stroke-width="0.8" />
<line x1="108.70" y1="591.50" x2="113.50" y2="591.50" stroke="#1a1a1a" stroke-width="0.8" />
<line x1="107.40" y1="584.30" x2="114.80" y2="584.30" stroke="#1a1a1a" stroke-width="0.8" />
<circle cx="146.20" cy="526.70" r="2.3" fill="#3BB3CB" fill-opacity="0.88"/>
<circle cx="146.20" cy="536.80" r="2.3" fill="#3BB3CB" fill-opacity="0.88"/>
<circle cx="146.20" cy="554.40" r="2.3" fill="#3BB3CB" fill-opacity="0.88"/>
<circle cx="146.20" cy="560.50" r="2.3" fill="#3BB3CB" fill-opacity="0.88"/>
<line x1="146.20" y1="536.50" x2="146.20" y2="552.40" stroke="#1a1a1a" stroke-width="0.8" />
<line x1="143.80" y1="536.50" x2="148.60" y2="536.50" stroke="#1a1a1a" stroke-width="0.8" />
<line x1="143.80" y1="552.40" x2="148.60" y2="552.40" stroke="#1a1a1a" stroke-width="0.8" />
<line x1="142.50" y1="545.00" x2="149.90" y2="545.00" stroke="#1a1a1a" stroke-width="0.8" />
<line x1="74.00" y1="508.70" x2="145.20" y2="508.70" stroke="#8a8a8a" stroke-width="0.8" />
<circle cx="108.10" cy="505.60" r="1.0" fill="#111"/>
<circle cx="111.50" cy="505.60" r="1.0" fill="#111"/>
<line x1="60.60" y1="518.70" x2="130.80" y2="518.70" stroke="#8a8a8a" stroke-width="0.8" />
<text x="95.60" y="517.00" font-size="9" text-anchor="middle" fill="#222" stroke="#222" stroke-width="0.18" >ns</text>
<line x1="74.00" y1="548.10" x2="110.00" y2="548.10" stroke="#8a8a8a" stroke-width="0.8" />
<text x="92.00" y="547.10" font-size="8.5" text-anchor="middle" fill="#222" stroke="#222" stroke-width="0.18" >0.057</text>
<line x1="60.60" y1="558.30" x2="95.80" y2="558.30" stroke="#8a8a8a" stroke-width="0.8" />
<text x="78.20" y="556.70" font-size="9" text-anchor="middle" fill="#222" stroke="#222" stroke-width="0.18" >ns</text>
<line x1="200.10" y1="501.30" x2="200.10" y2="654.90" stroke="#2b2b2b" stroke-width="0.8" />
<line x1="199.70" y1="654.50" x2="311.90" y2="654.50" stroke="#2b2b2b" stroke-width="0.8" />
<line x1="197.80" y1="530.60" x2="200.10" y2="530.60" stroke="#2b2b2b" stroke-width="0.7" />
<text x="194.70" y="533.91" font-size="7.8" text-anchor="end" fill="#383838" stroke="#383838" stroke-width="0.18" >2,200</text>
<line x1="197.80" y1="559.77" x2="200.10" y2="559.77" stroke="#2b2b2b" stroke-width="0.7" />
<text x="194.70" y="563.08" font-size="7.8" text-anchor="end" fill="#383838" stroke="#383838" stroke-width="0.18" >2,000</text>
<line x1="197.80" y1="588.95" x2="200.10" y2="588.95" stroke="#2b2b2b" stroke-width="0.7" />
<text x="194.70" y="592.26" font-size="7.8" text-anchor="end" fill="#383838" stroke="#383838" stroke-width="0.18" >1,800</text>
<line x1="197.80" y1="618.12" x2="200.10" y2="618.12" stroke="#2b2b2b" stroke-width="0.7" />
<text x="194.70" y="621.43" font-size="7.8" text-anchor="end" fill="#383838" stroke="#383838" stroke-width="0.18" >1,600</text>
<line x1="197.80" y1="647.30" x2="200.10" y2="647.30" stroke="#2b2b2b" stroke-width="0.7" />
<text x="194.70" y="650.61" font-size="7.8" text-anchor="end" fill="#383838" stroke="#383838" stroke-width="0.18" >1,400</text>
<line x1="221.00" y1="654.50" x2="221.00" y2="656.50" stroke="#2b2b2b" stroke-width="0.7" />
<line x1="256.00" y1="654.50" x2="256.00" y2="656.50" stroke="#2b2b2b" stroke-width="0.7" />
<line x1="291.00" y1="654.50" x2="291.00" y2="656.50" stroke="#2b2b2b" stroke-width="0.7" />
<text x="221.00" y="664.90" font-size="8" text-anchor="middle" fill="#222" stroke="#222" stroke-width="0.18" >DMSO</text>
<text x="256.00" y="664.90" font-size="8" text-anchor="middle" fill="#222" stroke="#222" stroke-width="0.18" >STAT5i</text>
<text x="291.00" y="664.90" font-size="8" text-anchor="middle" fill="#222" stroke="#222" stroke-width="0.18" >Pimozide</text>
<circle cx="213.30" cy="633.80" r="2.3" fill="#DB3B36" fill-opacity="0.88"/>
<circle cx="213.30" cy="644.00" r="2.3" fill="#DB3B36" fill-opacity="0.88"/>
<circle cx="213.30" cy="646.50" r="2.3" fill="#DB3B36" fill-opacity="0.88"/>
<circle cx="213.30" cy="648.50" r="2.3" fill="#DB3B36" fill-opacity="0.88"/>
<line x1="213.30" y1="639.40" x2="213.30" y2="645.00" stroke="#1a1a1a" stroke-width="0.8" />
<line x1="210.90" y1="639.40" x2="215.70" y2="639.40" stroke="#1a1a1a" stroke-width="0.8" />
<line x1="210.90" y1="645.00" x2="215.70" y2="645.00" stroke="#1a1a1a" stroke-width="0.8" />
<line x1="209.60" y1="642.30" x2="217.00" y2="642.30" stroke="#1a1a1a" stroke-width="0.8" />
<circle cx="247.80" cy="628.30" r="2.3" fill="#DB3B36" fill-opacity="0.88"/>
<circle cx="247.80" cy="630.70" r="2.3" fill="#DB3B36" fill-opacity="0.88"/>
<circle cx="247.80" cy="633.50" r="2.3" fill="#DB3B36" fill-opacity="0.88"/>
<circle cx="247.80" cy="635.20" r="2.3" fill="#DB3B36" fill-opacity="0.88"/>
<line x1="247.80" y1="629.60" x2="247.80" y2="632.00" stroke="#1a1a1a" stroke-width="0.8" />
<line x1="245.40" y1="629.60" x2="250.20" y2="629.60" stroke="#1a1a1a" stroke-width="0.8" />
<line x1="245.40" y1="632.00" x2="250.20" y2="632.00" stroke="#1a1a1a" stroke-width="0.8" />
<line x1="244.10" y1="630.80" x2="251.50" y2="630.80" stroke="#1a1a1a" stroke-width="0.8" />
<circle cx="283.50" cy="619.60" r="2.3" fill="#DB3B36" fill-opacity="0.88"/>
<circle cx="283.50" cy="622.00" r="2.3" fill="#DB3B36" fill-opacity="0.88"/>
<circle cx="283.50" cy="624.80" r="2.3" fill="#DB3B36" fill-opacity="0.88"/>
<circle cx="283.50" cy="628.30" r="2.3" fill="#DB3B36" fill-opacity="0.88"/>
<line x1="283.50" y1="622.40" x2="283.50" y2="625.80" stroke="#1a1a1a" stroke-width="0.8" />
<line x1="281.10" y1="622.40" x2="285.90" y2="622.40" stroke="#1a1a1a" stroke-width="0.8" />
<line x1="281.10" y1="625.80" x2="285.90" y2="625.80" stroke="#1a1a1a" stroke-width="0.8" />
<line x1="279.80" y1="624.10" x2="287.20" y2="624.10" stroke="#1a1a1a" stroke-width="0.8" />
<circle cx="228.80" cy="575.30" r="2.3" fill="#3BB3CB" fill-opacity="0.88"/>
<circle cx="228.80" cy="588.50" r="2.3" fill="#3BB3CB" fill-opacity="0.88"/>
<circle cx="228.80" cy="591.20" r="2.3" fill="#3BB3CB" fill-opacity="0.88"/>
<circle cx="228.80" cy="598.80" r="2.3" fill="#3BB3CB" fill-opacity="0.88"/>
<line x1="228.80" y1="585.40" x2="228.80" y2="595.00" stroke="#1a1a1a" stroke-width="0.8" />
<line x1="226.40" y1="585.40" x2="231.20" y2="585.40" stroke="#1a1a1a" stroke-width="0.8" />
<line x1="226.40" y1="595.00" x2="231.20" y2="595.00" stroke="#1a1a1a" stroke-width="0.8" />
<line x1="225.10" y1="590.20" x2="232.50" y2="590.20" stroke="#1a1a1a" stroke-width="0.8" />
<circle cx="264.00" cy="557.30" r="2.3" fill="#3BB3CB" fill-opacity="0.88"/>
<circle cx="264.00" cy="592.00" r="2.3" fill="#3BB3CB" fill-opacity="0.88"/>
<circle cx="264.00" cy="597.10" r="2.3" fill="#3BB3CB" fill-opacity="0.88"/>
<circle cx="264.00" cy="601.30" r="2.3" fill="#3BB3CB" fill-opacity="0.88"/>
<line x1="264.00" y1="576.30" x2="264.00" y2="597.10" stroke="#1a1a1a" stroke-width="0.8" />
<line x1="261.60" y1="576.30" x2="266.40" y2="576.30" stroke="#1a1a1a" stroke-width="0.8" />
<line x1="261.60" y1="597.10" x2="266.40" y2="597.10" stroke="#1a1a1a" stroke-width="0.8" />
<line x1="260.30" y1="586.70" x2="267.70" y2="586.70" stroke="#1a1a1a" stroke-width="0.8" />
<circle cx="298.80" cy="517.60" r="2.3" fill="#3BB3CB" fill-opacity="0.88"/>
<circle cx="298.80" cy="528.50" r="2.3" fill="#3BB3CB" fill-opacity="0.88"/>
<circle cx="298.80" cy="540.00" r="2.3" fill="#3BB3CB" fill-opacity="0.88"/>
<circle cx="298.80" cy="545.80" r="2.3" fill="#3BB3CB" fill-opacity="0.88"/>
<line x1="298.80" y1="529.60" x2="298.80" y2="548.80" stroke="#1a1a1a" stroke-width="0.8" />
<line x1="296.40" y1="529.60" x2="301.20" y2="529.60" stroke="#1a1a1a" stroke-width="0.8" />
<line x1="296.40" y1="548.80" x2="301.20" y2="548.80" stroke="#1a1a1a" stroke-width="0.8" />
<line x1="295.10" y1="538.80" x2="302.50" y2="538.80" stroke="#1a1a1a" stroke-width="0.8" />
<line x1="228.10" y1="508.70" x2="299.00" y2="508.70" stroke="#8a8a8a" stroke-width="0.8" />
<circle cx="261.60" cy="505.40" r="1.0" fill="#111"/>
<circle cx="265.00" cy="505.40" r="1.0" fill="#111"/>
<line x1="213.70" y1="515.80" x2="284.20" y2="515.80" stroke="#8a8a8a" stroke-width="0.8" />
<circle cx="247.50" cy="513.10" r="1.0" fill="#111"/>
<circle cx="250.90" cy="513.10" r="1.0" fill="#111"/>
<line x1="228.10" y1="537.50" x2="263.70" y2="537.50" stroke="#8a8a8a" stroke-width="0.8" />
<text x="245.90" y="536.30" font-size="9" text-anchor="middle" fill="#222" stroke="#222" stroke-width="0.18" >ns</text>
<line x1="213.70" y1="545.20" x2="249.20" y2="545.20" stroke="#8a8a8a" stroke-width="0.8" />
<circle cx="231.50" cy="541.20" r="1.0" fill="#111"/>
<line x1="351.20" y1="501.30" x2="351.20" y2="655.00" stroke="#2b2b2b" stroke-width="0.8" />
<line x1="350.80" y1="654.60" x2="462.20" y2="654.60" stroke="#2b2b2b" stroke-width="0.8" />
<line x1="348.90" y1="508.90" x2="351.20" y2="508.90" stroke="#2b2b2b" stroke-width="0.7" />
<text x="345.80" y="512.21" font-size="7.8" text-anchor="end" fill="#383838" stroke="#383838" stroke-width="0.18" >2,250</text>
<line x1="348.90" y1="544.83" x2="351.20" y2="544.83" stroke="#2b2b2b" stroke-width="0.7" />
<text x="345.80" y="548.13" font-size="7.8" text-anchor="end" fill="#383838" stroke="#383838" stroke-width="0.18" >2,000</text>
<line x1="348.90" y1="580.75" x2="351.20" y2="580.75" stroke="#2b2b2b" stroke-width="0.7" />
<text x="345.80" y="584.06" font-size="7.8" text-anchor="end" fill="#383838" stroke="#383838" stroke-width="0.18" >1,750</text>
<line x1="348.90" y1="616.67" x2="351.20" y2="616.67" stroke="#2b2b2b" stroke-width="0.7" />
<text x="345.80" y="619.98" font-size="7.8" text-anchor="end" fill="#383838" stroke="#383838" stroke-width="0.18" >1,500</text>
<line x1="348.90" y1="652.60" x2="351.20" y2="652.60" stroke="#2b2b2b" stroke-width="0.7" />
<text x="345.80" y="655.91" font-size="7.8" text-anchor="end" fill="#383838" stroke="#383838" stroke-width="0.18" >1,250</text>
<line x1="372.20" y1="654.60" x2="372.20" y2="656.60" stroke="#2b2b2b" stroke-width="0.7" />
<line x1="406.80" y1="654.60" x2="406.80" y2="656.60" stroke="#2b2b2b" stroke-width="0.7" />
<line x1="442.50" y1="654.60" x2="442.50" y2="656.60" stroke="#2b2b2b" stroke-width="0.7" />
<text x="372.20" y="664.90" font-size="8" text-anchor="middle" fill="#222" stroke="#222" stroke-width="0.18" >DMSO</text>
<text x="406.80" y="664.90" font-size="8" text-anchor="middle" fill="#222" stroke="#222" stroke-width="0.18" >STAT5i</text>
<text x="442.50" y="664.90" font-size="8" text-anchor="middle" fill="#222" stroke="#222" stroke-width="0.18" >Pimozide</text>
<circle cx="364.00" cy="630.90" r="2.3" fill="#DB3B36" fill-opacity="0.88"/>
<circle cx="364.00" cy="632.70" r="2.3" fill="#DB3B36" fill-opacity="0.88"/>
<circle cx="364.00" cy="636.30" r="2.3" fill="#DB3B36" fill-opacity="0.88"/>
<circle cx="364.00" cy="647.30" r="2.3" fill="#DB3B36" fill-opacity="0.88"/>
<line x1="364.00" y1="633.20" x2="364.00" y2="639.40" stroke="#1a1a1a" stroke-width="0.8" />
<line x1="361.60" y1="633.20" x2="366.40" y2="633.20" stroke="#1a1a1a" stroke-width="0.8" />
<line x1="361.60" y1="639.40" x2="366.40" y2="639.40" stroke="#1a1a1a" stroke-width="0.8" />
<line x1="360.30" y1="636.30" x2="367.70" y2="636.30" stroke="#1a1a1a" stroke-width="0.8" />
<circle cx="398.70" cy="632.70" r="2.3" fill="#DB3B36" fill-opacity="0.88"/>
<circle cx="398.70" cy="636.30" r="2.3" fill="#DB3B36" fill-opacity="0.88"/>
<circle cx="398.70" cy="639.30" r="2.3" fill="#DB3B36" fill-opacity="0.88"/>
<line x1="398.70" y1="635.00" x2="398.70" y2="637.60" stroke="#1a1a1a" stroke-width="0.8" />
<line x1="396.30" y1="635.00" x2="401.10" y2="635.00" stroke="#1a1a1a" stroke-width="0.8" />
<line x1="396.30" y1="637.60" x2="401.10" y2="637.60" stroke="#1a1a1a" stroke-width="0.8" />
<line x1="395.00" y1="636.30" x2="402.40" y2="636.30" stroke="#1a1a1a" stroke-width="0.8" />
<circle cx="435.20" cy="623.50" r="2.3" fill="#DB3B36" fill-opacity="0.88"/>
<circle cx="435.20" cy="630.90" r="2.3" fill="#DB3B36" fill-opacity="0.88"/>
<circle cx="435.20" cy="640.00" r="2.3" fill="#DB3B36" fill-opacity="0.88"/>
<line x1="435.20" y1="628.20" x2="435.20" y2="635.00" stroke="#1a1a1a" stroke-width="0.8" />
<line x1="432.80" y1="628.20" x2="437.60" y2="628.20" stroke="#1a1a1a" stroke-width="0.8" />
<line x1="432.80" y1="635.00" x2="437.60" y2="635.00" stroke="#1a1a1a" stroke-width="0.8" />
<line x1="431.50" y1="631.60" x2="438.90" y2="631.60" stroke="#1a1a1a" stroke-width="0.8" />
<circle cx="380.40" cy="573.60" r="2.3" fill="#3BB3CB" fill-opacity="0.88"/>
<circle cx="380.40" cy="586.70" r="2.3" fill="#3BB3CB" fill-opacity="0.88"/>
<circle cx="380.40" cy="601.00" r="2.3" fill="#3BB3CB" fill-opacity="0.88"/>
<circle cx="380.40" cy="602.00" r="2.3" fill="#3BB3CB" fill-opacity="0.88"/>
<line x1="380.40" y1="584.40" x2="380.40" y2="597.30" stroke="#1a1a1a" stroke-width="0.8" />
<line x1="378.00" y1="584.40" x2="382.80" y2="584.40" stroke="#1a1a1a" stroke-width="0.8" />
<line x1="378.00" y1="597.30" x2="382.80" y2="597.30" stroke="#1a1a1a" stroke-width="0.8" />
<line x1="376.70" y1="590.90" x2="384.10" y2="590.90" stroke="#1a1a1a" stroke-width="0.8" />
<circle cx="415.10" cy="561.40" r="2.3" fill="#3BB3CB" fill-opacity="0.88"/>
<circle cx="415.10" cy="570.60" r="2.3" fill="#3BB3CB" fill-opacity="0.88"/>
<circle cx="415.10" cy="572.40" r="2.3" fill="#3BB3CB" fill-opacity="0.88"/>
<line x1="415.10" y1="568.00" x2="415.10" y2="571.60" stroke="#1a1a1a" stroke-width="0.8" />
<line x1="412.70" y1="568.00" x2="417.50" y2="568.00" stroke="#1a1a1a" stroke-width="0.8" />
<line x1="412.70" y1="571.60" x2="417.50" y2="571.60" stroke="#1a1a1a" stroke-width="0.8" />
<line x1="411.40" y1="569.80" x2="418.80" y2="569.80" stroke="#1a1a1a" stroke-width="0.8" />
<circle cx="450.60" cy="524.90" r="2.3" fill="#3BB3CB" fill-opacity="0.88"/>
<circle cx="450.60" cy="529.60" r="2.3" fill="#3BB3CB" fill-opacity="0.88"/>
<circle cx="450.60" cy="546.80" r="2.3" fill="#3BB3CB" fill-opacity="0.88"/>
<circle cx="450.60" cy="558.90" r="2.3" fill="#3BB3CB" fill-opacity="0.88"/>
<line x1="450.60" y1="532.20" x2="450.60" y2="546.80" stroke="#1a1a1a" stroke-width="0.8" />
<line x1="448.20" y1="532.20" x2="453.00" y2="532.20" stroke="#1a1a1a" stroke-width="0.8" />
<line x1="448.20" y1="546.80" x2="453.00" y2="546.80" stroke="#1a1a1a" stroke-width="0.8" />
<line x1="446.90" y1="539.50" x2="454.30" y2="539.50" stroke="#1a1a1a" stroke-width="0.8" />
<line x1="379.00" y1="508.30" x2="449.60" y2="508.30" stroke="#8a8a8a" stroke-width="0.8" />
<circle cx="412.70" cy="505.40" r="1.0" fill="#111"/>
<circle cx="416.10" cy="505.40" r="1.0" fill="#111"/>
<line x1="364.60" y1="515.80" x2="435.40" y2="515.80" stroke="#8a8a8a" stroke-width="0.8" />
<text x="400.00" y="514.50" font-size="9" text-anchor="middle" fill="#222" stroke="#222" stroke-width="0.18" >ns</text>
<line x1="379.00" y1="544.60" x2="414.20" y2="544.60" stroke="#8a8a8a" stroke-width="0.8" />
<circle cx="396.90" cy="541.20" r="1.0" fill="#111"/>
<line x1="364.60" y1="551.50" x2="400.20" y2="551.50" stroke="#8a8a8a" stroke-width="0.8" />
<text x="382.40" y="550.40" font-size="9" text-anchor="middle" fill="#222" stroke="#222" stroke-width="0.18" >ns</text>
<text x="0.00" y="0.00" font-size="10" text-anchor="middle" fill="#1a1a1a" stroke="#1a1a1a" stroke-width="0.18" transform="translate(16.0,575.0) rotate(-90)">MFI-CD15</text>
<circle cx="470.40" cy="574.10" r="1.8" fill="#DB3B36" fill-opacity="1"/>
<circle cx="470.40" cy="587.70" r="1.8" fill="#3BB3CB" fill-opacity="1"/>
<text x="475.00" y="577.00" font-size="8" text-anchor="start" fill="#222" stroke="#222" stroke-width="0.18" textLength="24.00" lengthAdjust="spacingAndGlyphs" >DMSO</text>
<text x="475.00" y="590.60" font-size="8.2" text-anchor="start" fill="#222" stroke="#222" stroke-width="0.18" textLength="41.00" lengthAdjust="spacingAndGlyphs" >Enasidenib</text>
</svg>
</body></html>
